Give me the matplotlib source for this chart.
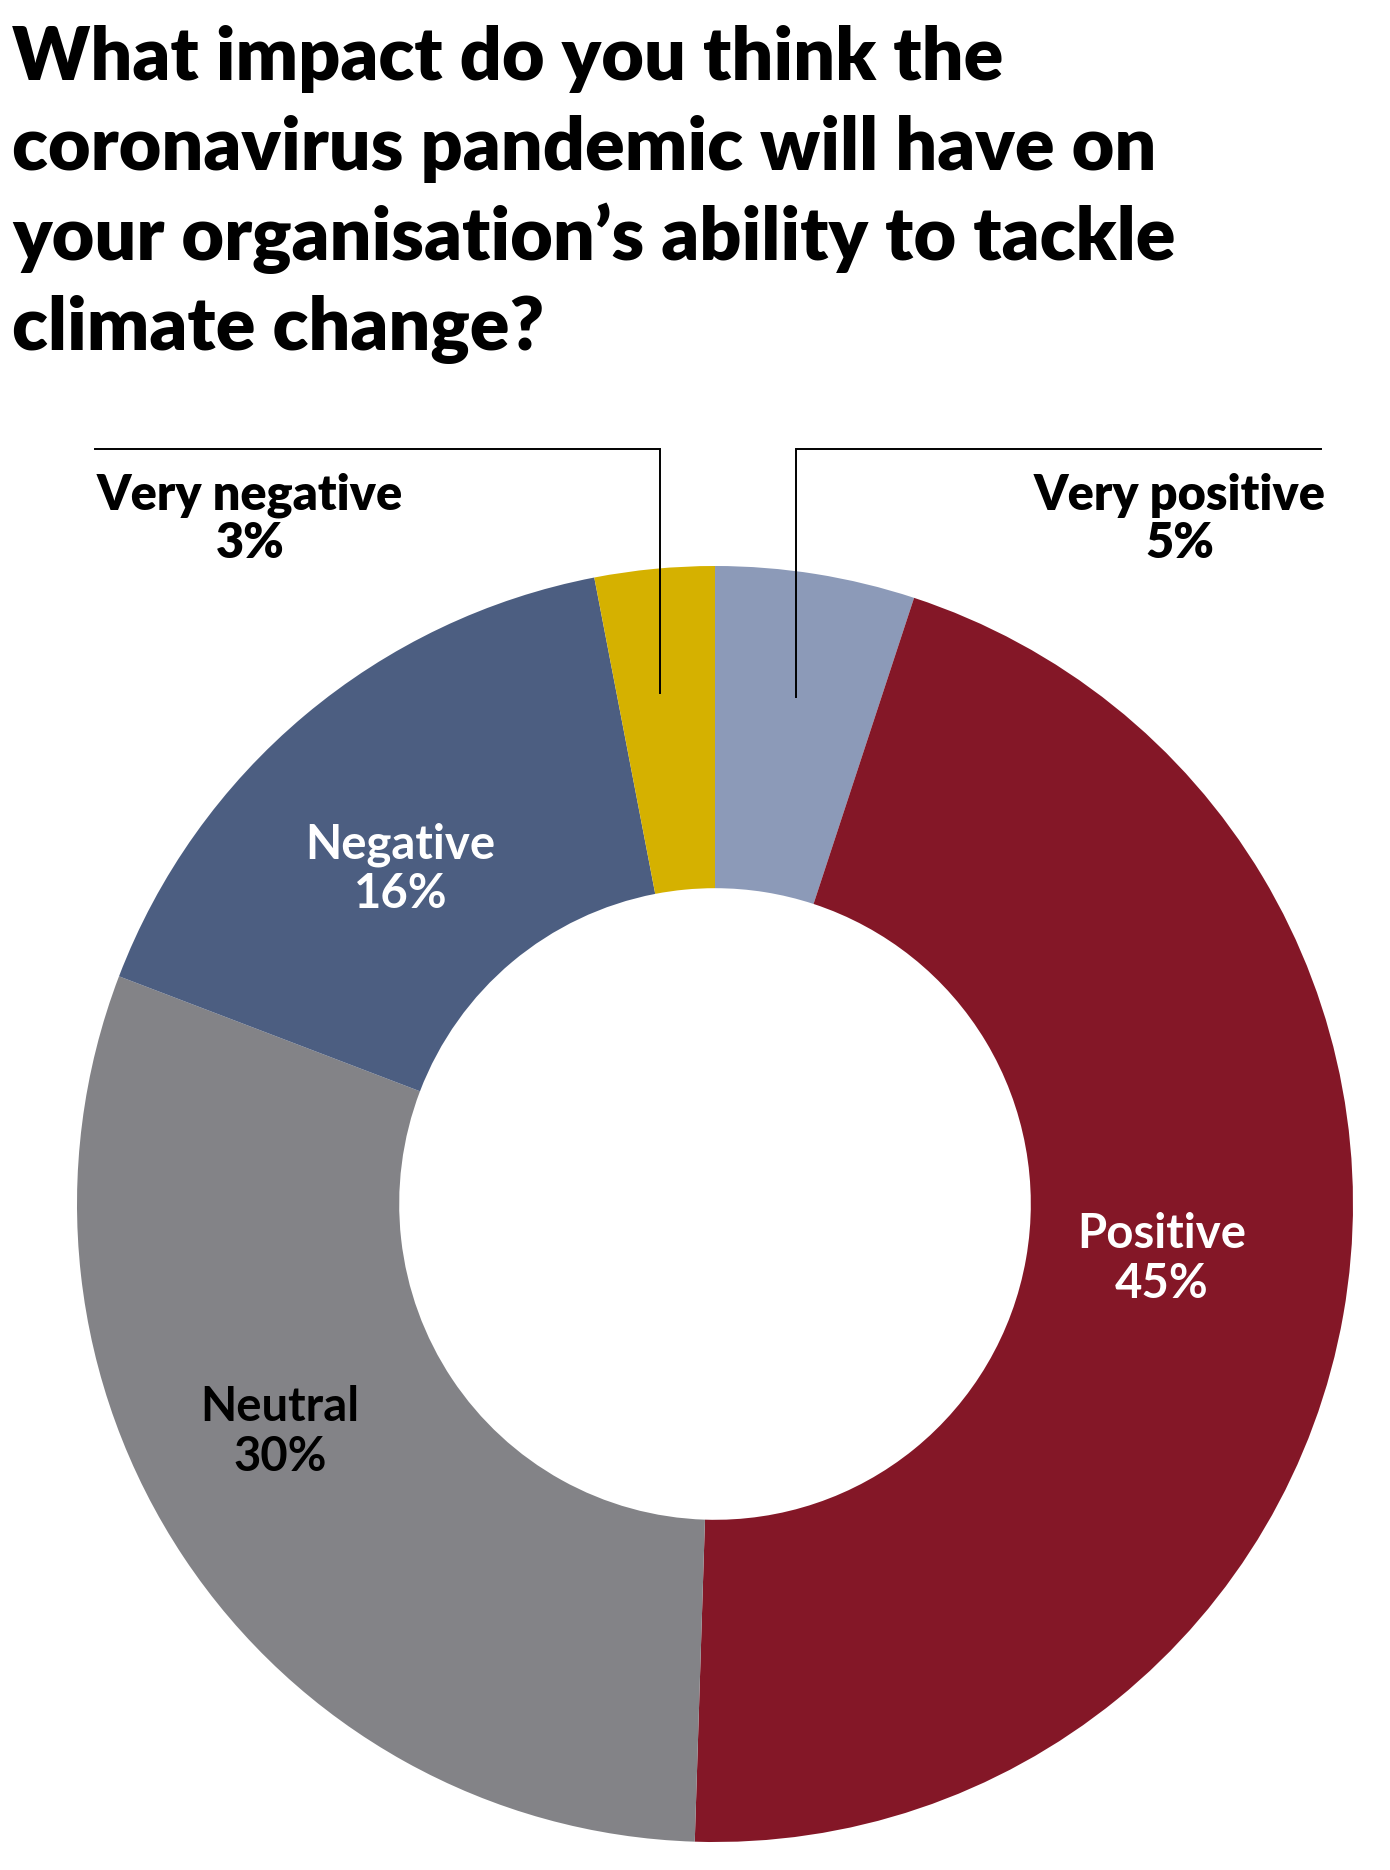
import numpy as np
import matplotlib
matplotlib.use('Agg')
import matplotlib.pyplot as plt

# Survey data
categories = ['Very positive', 'Positive', 'Neutral', 'Negative', 'Very negative']
shares = [5, 45, 30, 16, 3]
colors = ['#8C9AB8', '#841727', '#838387', '#4C5E81', '#D5B100']

title_lines = ['What impact do you think the',
               'coronavirus pandemic will have on',
               'your organisation\u2019s ability to tackle',
               'climate change?']

W, H = 1390, 1870
fig = plt.figure(figsize=(W / 100, H / 100), dpi=100)
ax = fig.add_axes([0, 0, 1, 1])
ax.set_xlim(0, W)
ax.set_ylim(0, H)
ax.set_aspect('equal')
ax.axis('off')

# Title, one line at a time (pixel baselines from the top)
for i, line in enumerate(title_lines):
    ax.text(12, H - (80 + 90 * i), line, fontsize=53, family='Lato',
            weight='heavy', color='black', ha='left', va='baseline')

# Donut
cx, cy, R = 715, H - 1204, 638
wedges, _ = ax.pie(shares, colors=colors, startangle=90, counterclock=False,
                   center=(cx, cy), radius=R,
                   wedgeprops=dict(width=R * 0.505, linewidth=0))
ax.set_xlim(0, W)
ax.set_ylim(0, H)

def mid_angle(w):
    return np.deg2rad((w.theta1 + w.theta2) / 2)

# Inner labels: (angle tweak in degrees, radius fraction, colour)
inner = {'Positive': (3, 0.705, 'white'),
         'Neutral': (-6, 0.77, 'black'),
         'Negative': (3.2, 0.72, 'white')}
for w, cat, val in zip(wedges, categories, shares):
    if cat not in inner:
        continue
    dang, rf, col = inner[cat]
    a = mid_angle(w) + np.deg2rad(dang)
    ax.text(cx + rf * R * np.cos(a), cy + rf * R * np.sin(a),
            f'{cat}\n{val}%', ha='center', va='center', fontsize=34,
            family='Lato', weight='bold', color=col, linespacing=1.15)

# Outer labels with elbow leader lines
top_y = H - 449
outer = {'Very negative': (95, 250, 0.7),
         'Very positive': (1321, 1180, 0.0)}
for w, cat, val in zip(wedges, categories, shares):
    if cat not in outer:
        continue
    end_x, text_x, dang = outer[cat]
    a = mid_angle(w) + np.deg2rad(dang)
    px, py = cx + 0.805 * R * np.cos(a), cy + 0.805 * R * np.sin(a)
    ax.plot([px, px, end_x], [py, top_y, top_y], color='black', lw=1.4,
            solid_joinstyle='miter')
    ax.text(text_x, H - 510, cat, ha='center', va='baseline', fontsize=35,
            family='Lato', weight='heavy', color='black')
    ax.text(text_x, H - 558, f'{val}%', ha='center', va='baseline',
            fontsize=35, family='Lato', weight='heavy', color='black')

fig.savefig('out.png', dpi=100, facecolor='white')
